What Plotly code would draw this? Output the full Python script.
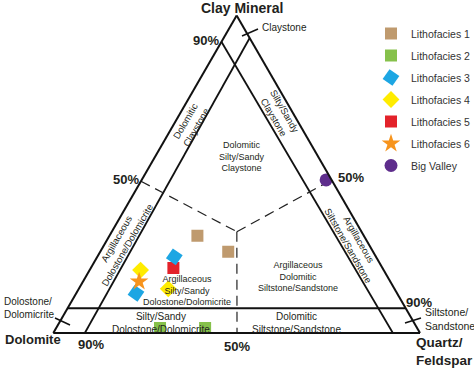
import plotly.graph_objects as go

W, H = 474, 369

# ---------------- data (fractions: clay, dolomite, quartz/feldspar) ----------------
series_names = ["Lithofacies 1", "Lithofacies 2", "Lithofacies 3", "Lithofacies 4",
                "Lithofacies 5", "Lithofacies 6", "Big Valley"]

litho1_clay = [0.306, 0.256]
litho1_dolo = [0.454, 0.395]
litho1_qtz = [0.240, 0.349]

litho2_clay = [0.016, 0.016]
litho2_dolo = [0.701, 0.578]
litho2_qtz = [0.283, 0.406]

litho3_clay = [0.240, 0.125]
litho3_dolo = [0.550, 0.712]
litho3_qtz = [0.210, 0.163]

litho4_clay = [0.198, 0.139]
litho4_dolo = [0.663, 0.617]
litho4_qtz = [0.139, 0.244]

litho5_clay = [0.205]
litho5_dolo = [0.570]
litho5_qtz = [0.225]

litho6_clay = [0.162]
litho6_dolo = [0.685]
litho6_qtz = [0.153]

bigvalley_clay = [0.482]
bigvalley_dolo = [0.015]
bigvalley_qtz = [0.503]

# classification boundaries
qtz10_clay = [0.0, 0.929]
qtz10_dolo = [0.914, 0.0]
qtz10_qtz = [0.086, 0.071]

dolo10_clay = [0.0, 0.917]
dolo10_dolo = [0.074, 0.083]
dolo10_qtz = [0.926, 0.0]

clay10_clay = [0.078, 0.078]
clay10_dolo = [0.922, 0.0]
clay10_qtz = [0.0, 0.922]

dash_left_clay = [0.478, 0.319]
dash_left_dolo = [0.522, 0.340]
dash_left_qtz = [0.0, 0.341]

dash_right_clay = [0.319, 0.482]
dash_right_dolo = [0.340, 0.0]
dash_right_qtz = [0.341, 0.518]

dash_bottom_clay = [0.319, 0.0]
dash_bottom_dolo = [0.340, 0.499]
dash_bottom_qtz = [0.341, 0.501]

# ---------------- figure ----------------
fig = go.Figure()

line_style = dict(color="#111111", width=1.8)
for a, b, c in [(qtz10_clay, qtz10_dolo, qtz10_qtz),
                (dolo10_clay, dolo10_dolo, dolo10_qtz),
                (clay10_clay, clay10_dolo, clay10_qtz)]:
    fig.add_trace(go.Scatterternary(a=a, b=b, c=c, mode="lines", line=line_style,
                                    showlegend=False, hoverinfo="skip"))

dash_style = dict(color="#222222", width=1.2, dash="10px,6px")
for a, b, c in [(dash_left_clay, dash_left_dolo, dash_left_qtz),
                (dash_right_clay, dash_right_dolo, dash_right_qtz),
                (dash_bottom_clay, dash_bottom_dolo, dash_bottom_qtz)]:
    fig.add_trace(go.Scatterternary(a=a, b=b, c=c, mode="lines", line=dash_style,
                                    showlegend=False, hoverinfo="skip"))

def pts(name, a, b, c, symbol, color, size, rank, angle=0):
    fig.add_trace(go.Scatterternary(
        a=a, b=b, c=c, mode="markers", name=name, legendgroup=name, legendrank=rank,
        marker=dict(symbol=symbol, color=color, size=size, angle=angle,
                    line=dict(width=0))))

pts(series_names[0], litho1_clay, litho1_dolo, litho1_qtz, "square", "#BF9A6E", 12, 1)
pts(series_names[1], litho2_clay, litho2_dolo, litho2_qtz, "square", "#86C14B", 12, 2)
pts(series_names[4], litho5_clay, litho5_dolo, litho5_qtz, "square", "#E3222A", 12, 5)
pts(series_names[2], litho3_clay, litho3_dolo, litho3_qtz, "square", "#1DA6E3", 12, 3, angle=35)
pts(series_names[3], litho4_clay, litho4_dolo, litho4_qtz, "diamond", "#FFEC00", 13, 4)
pts(series_names[5], litho6_clay, litho6_dolo, litho6_qtz, "star", "#F7941D", 14, 6)
pts(series_names[6], bigvalley_clay, bigvalley_dolo, bigvalley_qtz, "circle", "#5E2D8C", 13, 7)

axis_common = dict(showgrid=False, showticklabels=False, ticks="", linecolor="#111111",
                   linewidth=2, title=dict(text=""), min=0)

# ternary placement
x_left, x_right = 53.3, 420.0
tri_w = x_right - x_left
tri_h = tri_w * 3 ** 0.5 / 2
base_y = 333.0
cy = H - (base_y - tri_h / 2)  # center in px from bottom
half = 168

fig.update_layout(
    width=W, height=H,
    margin=dict(l=0, r=0, t=0, b=0, autoexpand=False),
    paper_bgcolor="white",
    ternary=dict(
        sum=1,
        bgcolor="white",
        domain=dict(x=[x_left / W, x_right / W], y=[(cy - half) / H, (cy + half) / H]),
        aaxis=axis_common, baxis=axis_common, caxis=axis_common,
    ),
    legend=dict(x=371 / W, y=1 - 19 / H, xanchor="left", yanchor="top",
                font=dict(family="Liberation Sans, Arial, sans-serif", size=10.5, color="#333333"),
                tracegroupgap=3, bgcolor="rgba(0,0,0,0)", itemsizing="trace"),
    font=dict(family="Liberation Sans, Arial, sans-serif", color="#231f20"),
)

def P(x, y):
    return x / W, 1 - y / H

annos = []

def label(text, x, y, size=9, bold=False, angle=0, align="center", xanchor="center"):
    px, py = P(x, y)
    t = "<b>" + text + "</b>" if bold else text
    annos.append(dict(x=px, y=py, xref="paper", yref="paper", text=t, showarrow=False,
                      textangle=angle, align=align, xanchor=xanchor, yanchor="middle",
                      font=dict(size=size, family="Liberation Sans, Arial, sans-serif",
                                color="#231f20")))

# corner titles
label("Clay Mineral", 242, 8, size=14, bold=True)
label("Dolomite", 3, 339, size=13, bold=True, xanchor="left")
label("Quartz/<br>Feldspar", 414, 351, size=13.5, bold=True, xanchor="left", align="left")

# percent labels
label("90%", 206, 40, size=13, bold=True)
label("50%", 126, 179, size=13, bold=True)
label("50%", 351, 178, size=13, bold=True)
label("90%", 419, 302, size=13, bold=True)
label("90%", 91, 344, size=13, bold=True)
label("50%", 237, 346, size=13, bold=True)

# outside labels
label("Claystone", 260, 28, size=10, xanchor="left")
label("Dolostone/<br>Dolomicrite", 2, 308, size=10, xanchor="left", align="left")
label("Siltstone/<br>Sandstone", 423, 319, size=10.5, xanchor="left", align="left")

# band labels (rotated)
label("Dolomitic<br>Claystone", 190, 124, size=9.5, angle=-60)
label("Silty/Sandy<br>Claystone", 280, 114, size=9.5, angle=60)
label("Argillaceous<br>Dolostone/Dolomicrite", 121, 242, size=9.5, angle=-60)
label("Argillaceous<br>Siltstone/Sandstone", 354, 242, size=9.5, angle=60)

# field labels
label("Dolomitic<br>Silty/Sandy<br>Claystone", 242, 156, size=9)
label("Argillaceous<br>Silty/Sandy<br>Dolostone/Dolomicrite", 187, 290, size=9)
label("Argillaceous<br>Dolomitic<br>Siltstone/Sandstone", 298, 276, size=9)
label("Silty/Sandy<br>Dolostone/Dolomicrite", 161, 323, size=10)
label("Dolomitic<br>Siltstone/Sandstone", 296, 323, size=10)

fig.update_layout(annotations=annos)

# leader ticks
shapes = []
for (x0, y0, x1, y1) in [(242, 36, 258, 29), (55, 318, 70, 325), (405, 323, 421, 318)]:
    a0, b0 = P(x0, y0)
    a1, b1 = P(x1, y1)
    shapes.append(dict(type="line", xref="paper", yref="paper", x0=a0, y0=b0, x1=a1, y1=b1,
                       line=dict(color="#111111", width=1.5)))
fig.update_layout(shapes=shapes)

fig.write_html("out.html", config={"displayModeBar": False},
               post_script="document.body.style.margin='0';document.body.style.overflow='hidden';")
